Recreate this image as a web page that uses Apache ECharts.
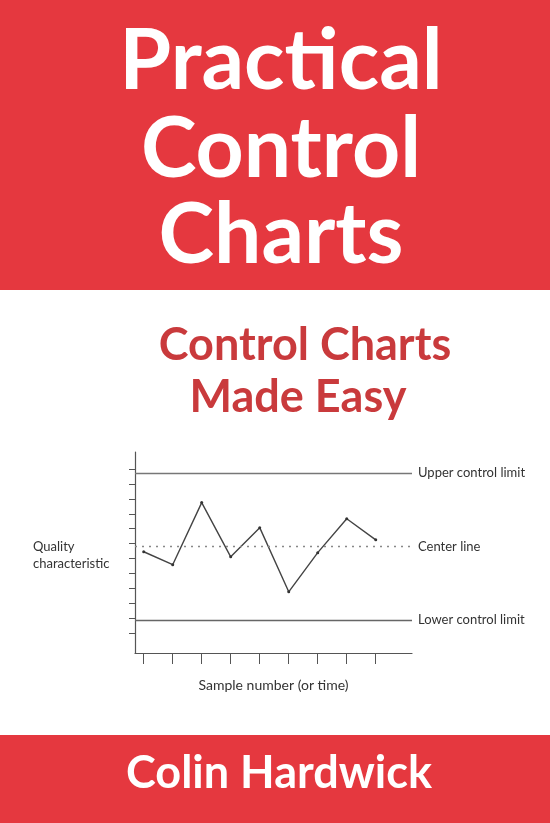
<!DOCTYPE html>
<html>
<head>
<meta charset="utf-8">
<script src="https://cdn.jsdelivr.net/npm/echarts@6/dist/echarts.min.js"></script>
<style>html,body{margin:0;padding:0;background:#fff}#main{width:550px;height:823px}</style>
</head>
<body>
<div id="main"></div>
<script>
// 样本序号与质量特性值
var samples = [1, 2, 3, 4, 5, 6, 7, 8, 9];
var quality = [6.8, 5.93, 10.1, 6.46, 8.42, 4.11, 6.74, 9.02, 7.6];
var upperLimit = 12.1;
var centerLine = 7.14;
var lowerLimit = 2.2;
var yTicks = [1.35, 2.35, 3.35, 4.35, 5.35, 6.35, 7.35, 8.35, 9.35, 10.35, 11.35, 12.35];

var red = '#e5383f';
var font = 'Lato';

var chart = echarts.init(document.getElementById('main'));
var lineLabel = function(txt) {
    return { show: true, position: 'end', formatter: txt, color: '#333', fontSize: 13, fontFamily: font, distance: 6 };
};
var option = {
    animation: false,
    backgroundColor: '#fff',
    graphic: [
        { type: 'rect', shape: { x: 0, y: 0, width: 550, height: 290 }, style: { fill: red }, z: -1 },
        { type: 'rect', shape: { x: 0, y: 735, width: 550, height: 88 }, style: { fill: red }, z: -1 },
        { type: 'text', x: 281, y: 62, style: { text: 'Practical', fill: '#fff', font: 'bold 84px Lato', align: 'center', verticalAlign: 'middle' } },
        { type: 'text', x: 281, y: 150, style: { text: 'Control', fill: '#fff', font: 'bold 84px Lato', align: 'center', verticalAlign: 'middle' } },
        { type: 'text', x: 281, y: 236, style: { text: 'Charts', fill: '#fff', font: 'bold 84px Lato', align: 'center', verticalAlign: 'middle' } },
        { type: 'text', x: 305, y: 345, style: { text: 'Control Charts', fill: '#c93a3c', font: 'bold 45px Lato', align: 'center', verticalAlign: 'middle' } },
        { type: 'text', x: 298, y: 397, style: { text: 'Made Easy', fill: '#c93a3c', font: 'bold 45px Lato', align: 'center', verticalAlign: 'middle' } },
        { type: 'text', x: 279, y: 773, style: { text: 'Colin Hardwick', fill: '#fff', font: 'bold 45px Lato', align: 'center', verticalAlign: 'middle' } },
        { type: 'text', x: 33, y: 555, style: { text: 'Quality\ncharacteristic', fill: '#333', font: '13px Lato', lineHeight: 17, verticalAlign: 'middle' } }
    ],
    grid: { left: 135, right: 138, top: 452, bottom: 170 },
    xAxis: {
        type: 'value', min: 0.7, max: 10.25,
        name: 'Sample number (or time)', nameLocation: 'middle', nameGap: 25,
        nameTextStyle: { color: '#333', fontSize: 14, fontFamily: font },
        axisLine: { lineStyle: { color: '#555', width: 1.2 } },
        axisTick: { customValues: samples, length: 11, lineStyle: { color: '#555' } },
        axisLabel: { show: false },
        splitLine: { show: false }
    },
    yAxis: {
        type: 'value', min: 0, max: 13.5,
        axisLine: { show: true, lineStyle: { color: '#555', width: 1.2 } },
        axisTick: { show: true, customValues: yTicks, length: 6, lineStyle: { color: '#555' } },
        axisLabel: { show: false },
        splitLine: { show: false }
    },
    series: [{
        type: 'line',
        data: samples.map(function(s, i) { return [s, quality[i]]; }),
        symbol: 'circle', symbolSize: 3,
        itemStyle: { color: '#333' },
        lineStyle: { color: '#444', width: 1.4 },
        markLine: {
            symbol: 'none', silent: true,
            data: [
                { yAxis: upperLimit, lineStyle: { type: 'solid', color: '#777', width: 1.4 }, label: lineLabel('Upper control limit') },
                { yAxis: centerLine, lineStyle: { type: [2, 5], color: '#888', width: 1.4 }, label: lineLabel('Center line') },
                { yAxis: lowerLimit, lineStyle: { type: 'solid', color: '#666', width: 1.4 }, label: lineLabel('Lower control limit') }
            ]
        }
    }]
};
chart.setOption(option);
</script>
</body>
</html>
